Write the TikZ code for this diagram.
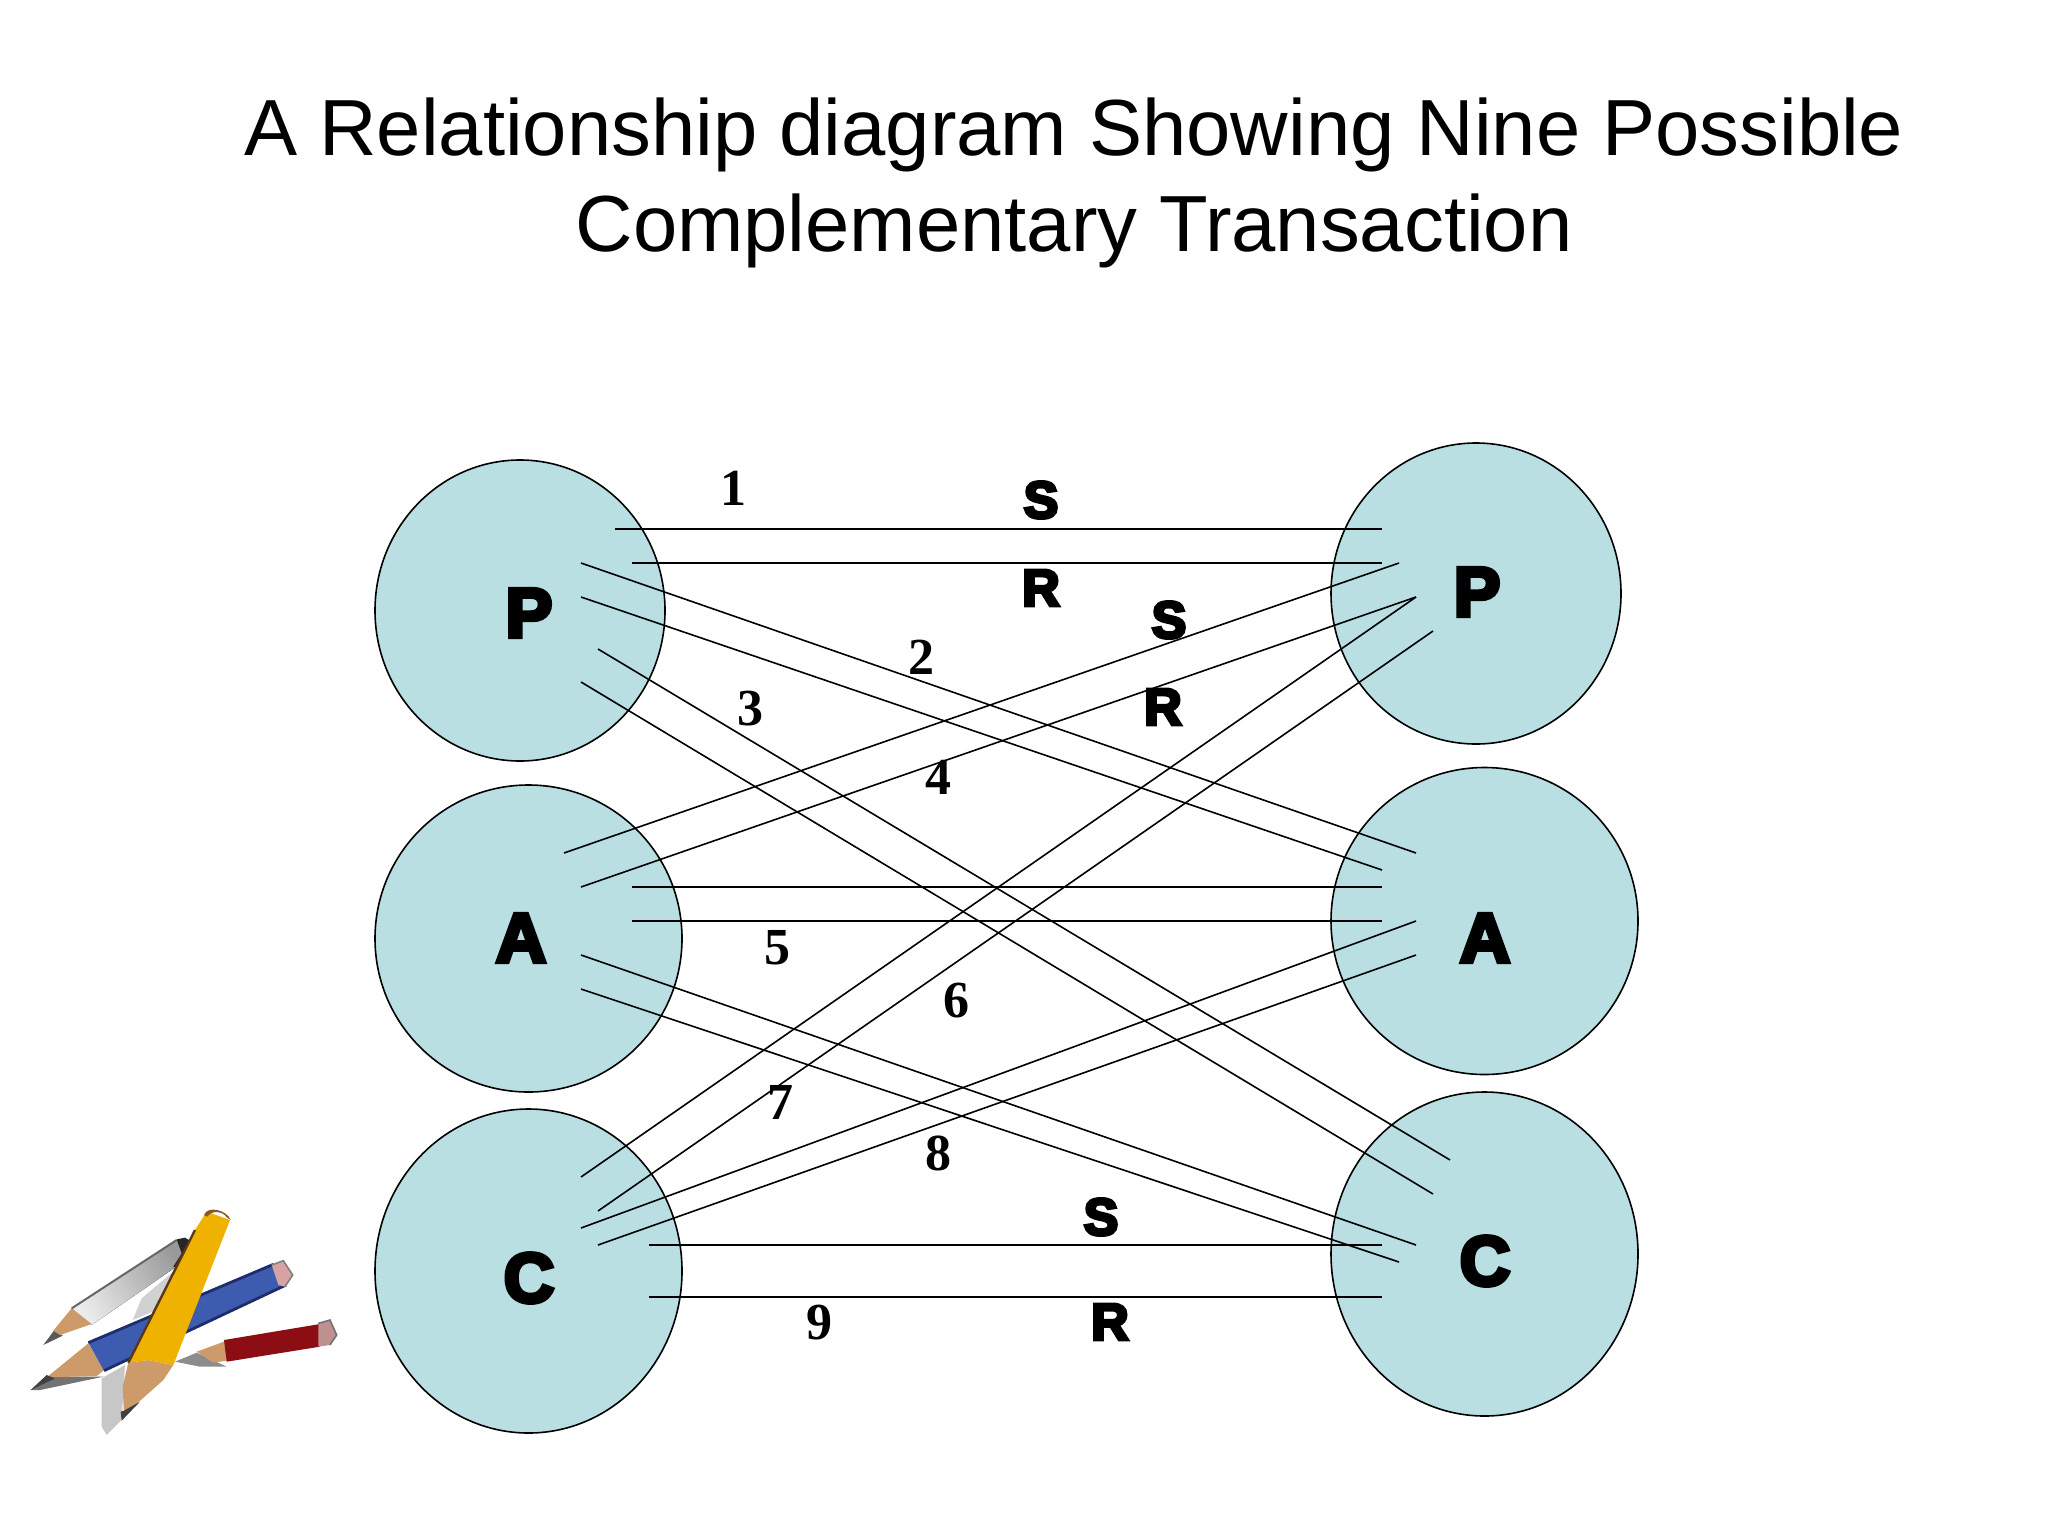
\documentclass[tikz,border=0pt]{standalone}
\usepackage{fontspec}
\usetikzlibrary{shapes.geometric}
\setmainfont{Liberation Sans}
\newfontfamily\heavyfont[FakeBold=6]{Liberation Sans Bold}
\newfontfamily\numfont{Liberation Serif Bold}
\definecolor{bubble}{RGB}{186,223,226}
\definecolor{wood}{RGB}{205,155,105}
\definecolor{bluepen}{RGB}{62,92,175}
\definecolor{bluedark}{RGB}{30,45,110}
\definecolor{goldpen}{RGB}{240,178,0}
\definecolor{redpen}{RGB}{140,14,20}
\tikzset{
  state/.style={ellipse,draw=black,line width=0.8pt,fill=bubble,inner sep=0pt},
  wideS/.style={state,minimum width=145pt,minimum height=150.5pt},
  wideB/.style={state,minimum width=153.5pt,minimum height=153.5pt},
  wideC/.style={state,minimum width=153.5pt,minimum height=162pt},
  big/.style={font=\heavyfont\fontsize{35}{35}\selectfont,inner sep=0pt},
  sr/.style={font=\heavyfont\fontsize{26}{26}\selectfont,inner sep=0pt},
  num/.style={font=\numfont\fontsize{26}{26}\selectfont,inner sep=0pt},
  link/.style={draw=black,line width=0.8pt}
}
\begin{document}
\begin{tikzpicture}[x=0.5pt,y=-0.5pt]
\useasboundingbox[fill=white] (0,0) rectangle (2048,1536);
\node[align=center,text=black,font=\fontsize{39.8}{47.7}\selectfont,inner sep=0pt] (title) at (1074,183) {A Relationship diagram Showing Nine Possible\\Complementary Transaction};
% ellipses
\node[wideS] (PL) at (520,610.5) {};
\node[wideB] (AL) at (528.5,938.5) {};
\node[wideC] (CL) at (528.5,1271) {};
\node[wideS] (PR) at (1476,593.5) {};
\node[wideB] (AR) at (1484.5,921) {};
\node[wideC] (CR) at (1484.5,1254) {};
% end points
\foreach \n/\x/\y in {
 a1/615/529,a2/1382/529,b1/632/563,b2/1382/563,
 c1/581/563,c2/1416/853,d1/581/597,d2/1382/870,
 e1/598/649,e2/1450/1160,f1/581/682,f2/1433/1194,
 g1/564/853,g2/1399/563,h1/581/887,h2/1416/597,
 i1/632/887,i2/1382/887,j1/632/921,j2/1382/921,
 k1/581/1177,k2/1416/597,l1/598/1211,l2/1433/631,
 m1/581/1228,m2/1416/921,n1/598/1245,n2/1416/955,
 o1/581/955,o2/1416/1245,p1/581/989,p2/1399/1262,
 q1/649/1245,q2/1382/1245,r1/649/1297,r2/1382/1297}
 {\coordinate (\n) at (\x,\y);}
\foreach \s in {a,b,c,d,e,f,g,h,i,j,k,l,m,n,o,p,q,r}
 {\draw[link] (\s1) -- (\s2);}
% big letters
\node[big] (tP1) at (529,613) {P};
\node[big] (tA1) at (521,938) {A};
\node[big] (tC1) at (529,1278) {C};
\node[big] (tP2) at (1477,592) {P};
\node[big] (tA2) at (1485,938) {A};
\node[big] (tC2) at (1485,1261) {C};
% send/response
\node[sr] (s1) at (1041,500) {S};
\node[sr] (r1) at (1041,588) {R};
\node[sr] (s2) at (1169,620) {S};
\node[sr] (r2) at (1163,707) {R};
\node[sr] (s3) at (1101,1217) {S};
\node[sr] (r3) at (1110,1322) {R};
% numbers
\node[num] (n1) at (733,488) {1};
\node[num] (n2) at (921,657) {2};
\node[num] (n3) at (750,709) {3};
\node[num] (n4) at (938,777) {4};
\node[num] (n5) at (777,948) {5};
\node[num] (n6) at (956,1001) {6};
\node[num] (n7) at (780,1102) {7};
\node[num] (n8) at (938,1153) {8};
\node[num] (n9) at (819,1323) {9};
% pencils, drawn in crop coordinates (3 crop units = 1 pixel)
\begin{scope}[shift={(0,1170)},x=0.16667pt,y=-0.16667pt]
 % white pencil
 \fill[black!65] (130,525) -- (165,478) -- (188,497) -- cycle;
 \fill[left color=black!40,right color=black!8,shading angle=-60] (215,415) -- (530,210) -- (565,265) -- (275,465) -- cycle;
 \fill[black!85] (530,208) -- (555,203) -- (575,215) -- (540,295) -- (520,290) -- (545,250) -- cycle;
 \fill[wood] (160,482) -- (215,415) -- (275,462) -- (180,495) -- cycle;
 \draw[black!60,line width=1pt] (215,415) -- (530,210);
 \fill[black!18] (398,450) -- (425,385) -- (525,300) -- (470,420) -- cycle;
 % blue pencil
 \fill[black!55] (92,660) -- (140,620) -- (310,620) -- (120,660) -- cycle;
 \fill[black!22] (305,625) -- (375,585) -- (365,750) -- (320,795) -- (305,770) -- cycle;
 \fill[wood] (140,622) -- (265,520) -- (312,600) -- (290,618) -- cycle;
 \fill[black!75] (92,660) -- (140,615) -- (165,625) -- cycle;
 \fill[bluepen] (265,518) -- (820,283) -- (858,345) -- (312,602) -- cycle;
 \draw[bluedark,line width=1.4pt] (265,518) -- (820,283);
 \draw[bluedark,line width=1.4pt] (312,602) -- (858,345);
 \fill[black!15!pink] (815,285) -- (850,272) -- (878,315) -- (855,350) -- (835,345) -- cycle;
 \draw[black!50,line width=0.8pt] (815,285) -- (850,272) -- (878,315) -- (855,350);
 % red pencil
 \fill[black!45] (525,575) -- (590,548) -- (680,590) -- (600,590) -- cycle;
 \fill[wood] (590,545) -- (680,512) -- (680,572) -- (640,578) -- cycle;
 \fill[redpen] (672,510) -- (960,462) -- (960,530) -- (680,575) -- cycle;
 \fill[black!25!pink] (955,460) -- (990,450) -- (1010,495) -- (990,525) -- (955,530) -- cycle;
 \draw[black!55,line width=0.8pt] (955,460) -- (990,450) -- (1010,495) -- (990,525);
 % yellow pencil
 \fill[wood] (385,578) -- (445,570) -- (520,585) -- (490,630) -- (372,735) -- (368,650) -- cycle;
 \fill[black!75] (372,722) -- (420,695) -- (365,752) -- (362,725) -- cycle;
 \fill[goldpen] (585,180) -- (620,125) -- (690,150) -- (520,585) -- (445,570) -- (385,578) -- cycle;
 \draw[black!55!brown,line width=1.2pt] (385,578) -- (585,180);
 \fill[brown!70!black] (612,135) to[out=70,in=110] (692,150) -- (680,142) to[out=120,in=60] (622,140) -- cycle;
\end{scope}
\end{tikzpicture}
\end{document}
